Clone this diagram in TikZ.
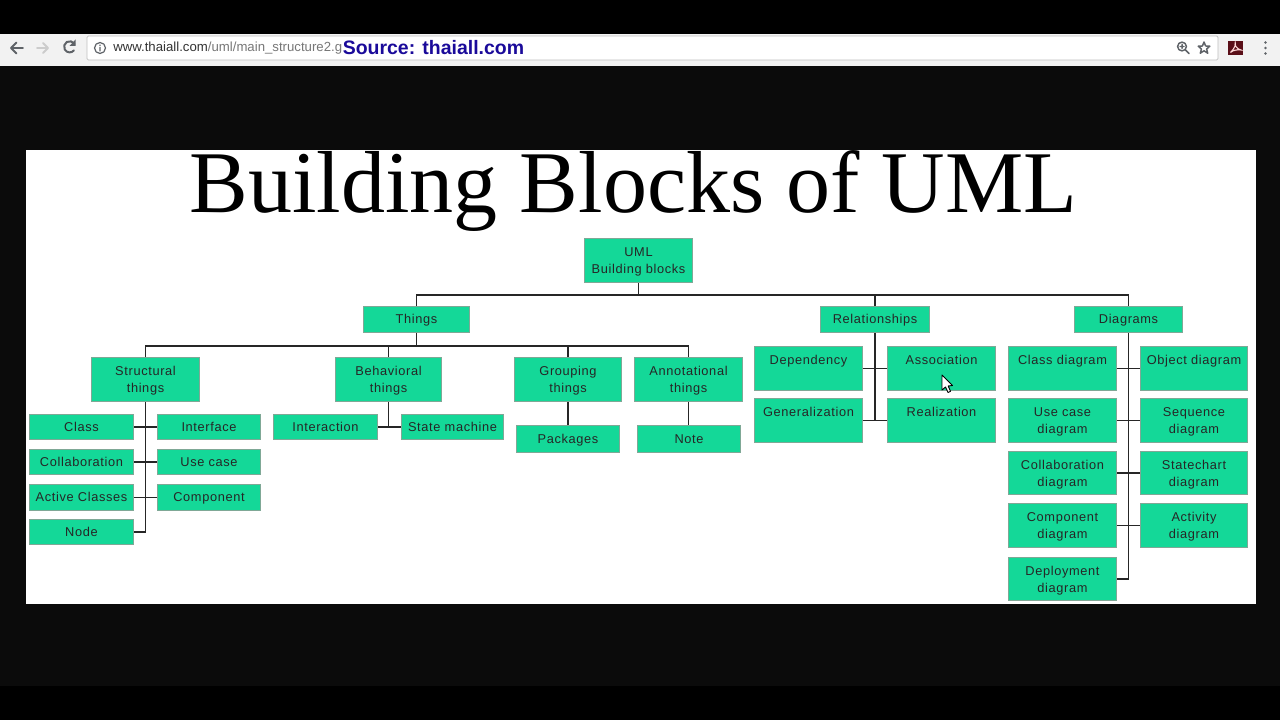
\documentclass[tikz,border=0pt]{standalone}
\usepackage{fontspec}
\setmainfont{Liberation Sans}
\newfontfamily\titlefont{Liberation Serif}
\newfontfamily\boxfont[LetterSpace=5]{Liberation Sans}
\usetikzlibrary{calc}
\definecolor{boxgreen}{HTML}{14D898}
\definecolor{boxedge}{HTML}{7FA896}
\definecolor{screen}{HTML}{0B0B0B}
\definecolor{chrome}{HTML}{F2F2F2}
\definecolor{urlgrey}{HTML}{777777}
\definecolor{urldark}{HTML}{333333}
\definecolor{srcblue}{HTML}{1A0A9A}
\definecolor{iconcol}{HTML}{5F6368}
\definecolor{pdfred}{HTML}{5A0F18}
\tikzset{
  blk/.style={draw=boxedge,line width=0.85pt,fill=boxgreen,inner sep=0pt,align=center,
    font=\boxfont\fontsize{9.6}{12.8}\selectfont,text=black!85},
  wire/.style={draw=black!85,line width=1.4pt},
  icon/.style={draw=iconcol,line width=1.2pt,line cap=round,line join=round},
}
% [first-line height], name, x0, y0, x1, y1, text
\newcommand\blkbox[7][9pt]{\node[blk,minimum width=#5*0.75pt-#3*0.75pt-0.85pt,minimum height=#6*0.75pt-#4*0.75pt-0.85pt] (#2) at ({(#3+#5)/2},{(#4+#6)/2}) {\rule{0pt}{#1}#7\rule[-3pt]{0pt}{3pt}};}
\begin{document}
\begin{tikzpicture}[x=0.75pt,y=-0.75pt]
\useasboundingbox (0,0) rectangle (1280,720);
% screen
\fill[screen] (0,0) rectangle (1280,720);
\fill[black] (0,0) rectangle (1280,34);
\fill[black] (0,686) rectangle (1280,720);
\fill[chrome] (0,34) rectangle (1280,66);
\filldraw[draw=black!25,fill=white,line width=0.6pt,rounded corners=1pt] (87,36) rectangle (1218,60);
% toolbar icons
\draw[icon,line width=1.4pt] (23,48) -- (11,48) (16.5,42.5) -- (11,48) -- (16.5,53.5);
\draw[icon,draw=black!20,line width=1.4pt] (48,48) -- (37,48) (43,43) -- (48,48) -- (43,53);
\draw[icon,line width=1.5pt] (74.5,44) arc[start angle=-30,end angle=-320,radius=5.6];
\fill[iconcol] (75.5,39.5) -- (75.5,46) -- (69.5,46) -- cycle;
\draw[icon,line width=0.9pt] (100,48) circle (5.5);
\fill[iconcol] (99.3,44.6) rectangle (100.7,46) (99.3,47) rectangle (100.7,51.4);
\draw[icon,line width=1.1pt] (1182,46.5) circle (4.4) (1185.3,49.8) -- (1189,53.5) (1180,46.5) -- (1184,46.5) (1182,44.5) -- (1182,48.5);
\draw[icon,line width=1.1pt] (1204,42) -- (1205.6,46) -- (1209.8,46.2) -- (1206.6,49) -- (1207.7,53.2) -- (1204,50.8) -- (1200.3,53.2) -- (1201.4,49) -- (1198.2,46.2) -- (1202.4,46) -- cycle;
\fill[pdfred] (1228,41) rectangle (1243,55);
\draw[white!85!red,line width=0.8pt] (1230.5,52.5) .. controls (1235,48) and (1236,44) .. (1235.2,42.8) .. controls (1234.2,44) and (1236,49) .. (1241,50) .. controls (1238,49.5) and (1233,50) .. (1230.5,52.5);
\fill[iconcol] (1265.5,42.5) circle (1.4) (1265.5,48) circle (1.4) (1265.5,53.5) circle (1.4);
% url + source text
\node[anchor=west,inner sep=0pt,font=\fontsize{9.9}{11}\selectfont,text=urlgrey] (url) at (113,48) {\textcolor{urldark}{www.thaiall.com}/uml/main\_structure2.g};
\node[anchor=west,inner sep=0pt,font=\bfseries\fontsize{14.6}{16}\selectfont,text=srcblue] (source) at (342.5,47.5) {Source: thaiall.com};
% white slide
\fill[white] (26,150) rectangle (1256,604);
\node[inner sep=0pt,font=\titlefont\fontsize{66}{70}\selectfont,text=black,anchor=base] (title) at (633.5,212.5) {Building Blocks of UML};
% boxes
\blkbox[9.8pt]{uml}{584}{238}{693}{283}{UML\\Building blocks}
\blkbox{things}{363}{306}{470}{333}{Things}
\blkbox{rel}{820}{306}{930}{333}{Relationships}
\blkbox{dia}{1074}{306}{1183}{333}{Diagrams}
\blkbox[9.8pt]{st}{91}{357}{200}{402}{Structural\\things}
\blkbox[9.8pt]{be}{335}{357}{442}{402}{Behavioral\\things}
\blkbox[9.8pt]{gr}{514}{357}{622}{402}{Grouping\\things}
\blkbox[9.8pt]{an}{634}{357}{743}{402}{Annotational\\things}
\blkbox{class}{29}{414}{134}{440}{Class}
\blkbox{iface}{157}{414}{261}{440}{Interface}
\blkbox{collab}{29}{449}{134}{475}{Collaboration}
\blkbox{usecase}{157}{449}{261}{475}{Use case}
\blkbox{active}{29}{484}{134}{511}{Active Classes}
\blkbox{compo}{157}{484}{261}{511}{Component}
\blkbox{nodeb}{29}{519}{134}{545}{Node}
\blkbox{inter}{273}{414}{378}{440}{Interaction}
\blkbox{state}{401}{414}{504}{440}{State machine}
\blkbox{pack}{516}{425}{620}{453}{Packages}
\blkbox{note}{637}{425}{741}{453}{Note}
\blkbox[9.8pt]{dep}{754}{346}{863}{391}{Dependency\\~}
\blkbox[9.8pt]{assoc}{887}{346}{996}{391}{Association\\~}
\blkbox[9.8pt]{gen}{754}{398}{863}{443}{Generalization\\~}
\blkbox[9.8pt]{real}{887}{398}{996}{443}{Realization\\~}
\blkbox[9.8pt]{dclass}{1008}{346}{1117}{391}{Class diagram\\~}
\blkbox[9.8pt]{dobj}{1140}{346}{1248}{391}{Object diagram\\~}
\blkbox[9.8pt]{duse}{1008}{398}{1117}{443}{Use case\\diagram}
\blkbox[9.8pt]{dseq}{1140}{398}{1248}{443}{Sequence\\diagram}
\blkbox[9.8pt]{dcol}{1008}{451}{1117}{495}{Collaboration\\diagram}
\blkbox[9.8pt]{dstate}{1140}{451}{1248}{495}{Statechart\\diagram}
\blkbox[9.8pt]{dcomp}{1008}{503}{1117}{548}{Component\\diagram}
\blkbox[9.8pt]{dact}{1140}{503}{1248}{548}{Activity\\diagram}
\blkbox[9.8pt]{ddep}{1008}{557}{1117}{601}{Deployment\\diagram}
% tree
\coordinate (busA) at (638.5,295);
\coordinate (busB) at (416.5,346);
\draw[wire] (uml.south) -- (busA);
\draw[wire] (things.north) |- (busA) -| (dia.north);
\draw[wire] (rel.north) -- (rel.north |- busA);
\draw[wire] (things.south) -- (things.south |- busB);
\draw[wire] (st.north) |- (busB) -| (an.north);
\draw[wire] (be.north) -- (be.north |- busB);
\draw[wire] (gr.north) -- (gr.north |- busB);
% structural
\draw[wire] (st.south) |- (nodeb.east);
\draw[wire] (class.east) -- (iface.west);
\draw[wire] (collab.east) -- (usecase.west);
\draw[wire] (active.east) -- (compo.west);
% behavioral
\draw[wire] (be.south) -- (be.south |- inter.east);
\draw[wire] (inter.east) -- (state.west);
% grouping, annotational
\draw[wire] (gr.south) -- (pack.north -| gr.south);
\draw[wire] (an.south) -- (note.north -| an.south);
% relationships
\draw[wire] (rel.south) -- (rel.south |- gen.east);
\draw[wire] (dep.east) -- (assoc.west);
\draw[wire] (gen.east) -- (real.west);
% diagrams
\draw[wire] (dia.south) |- (ddep.east);
\draw[wire] (dclass.east) -- (dobj.west);
\draw[wire] (duse.east) -- (dseq.west);
\draw[wire] (dcol.east) -- (dstate.west);
\draw[wire] (dcomp.east) -- (dact.west);
% mouse pointer
\filldraw[fill=white,draw=black,line width=0.7pt,line join=round] (942,375) -- (942,390) -- (945.5,387) -- (948,392.5) -- (950.5,391.3) -- (948.2,386) -- (952.5,385.5) -- cycle;
\end{tikzpicture}
\end{document}
